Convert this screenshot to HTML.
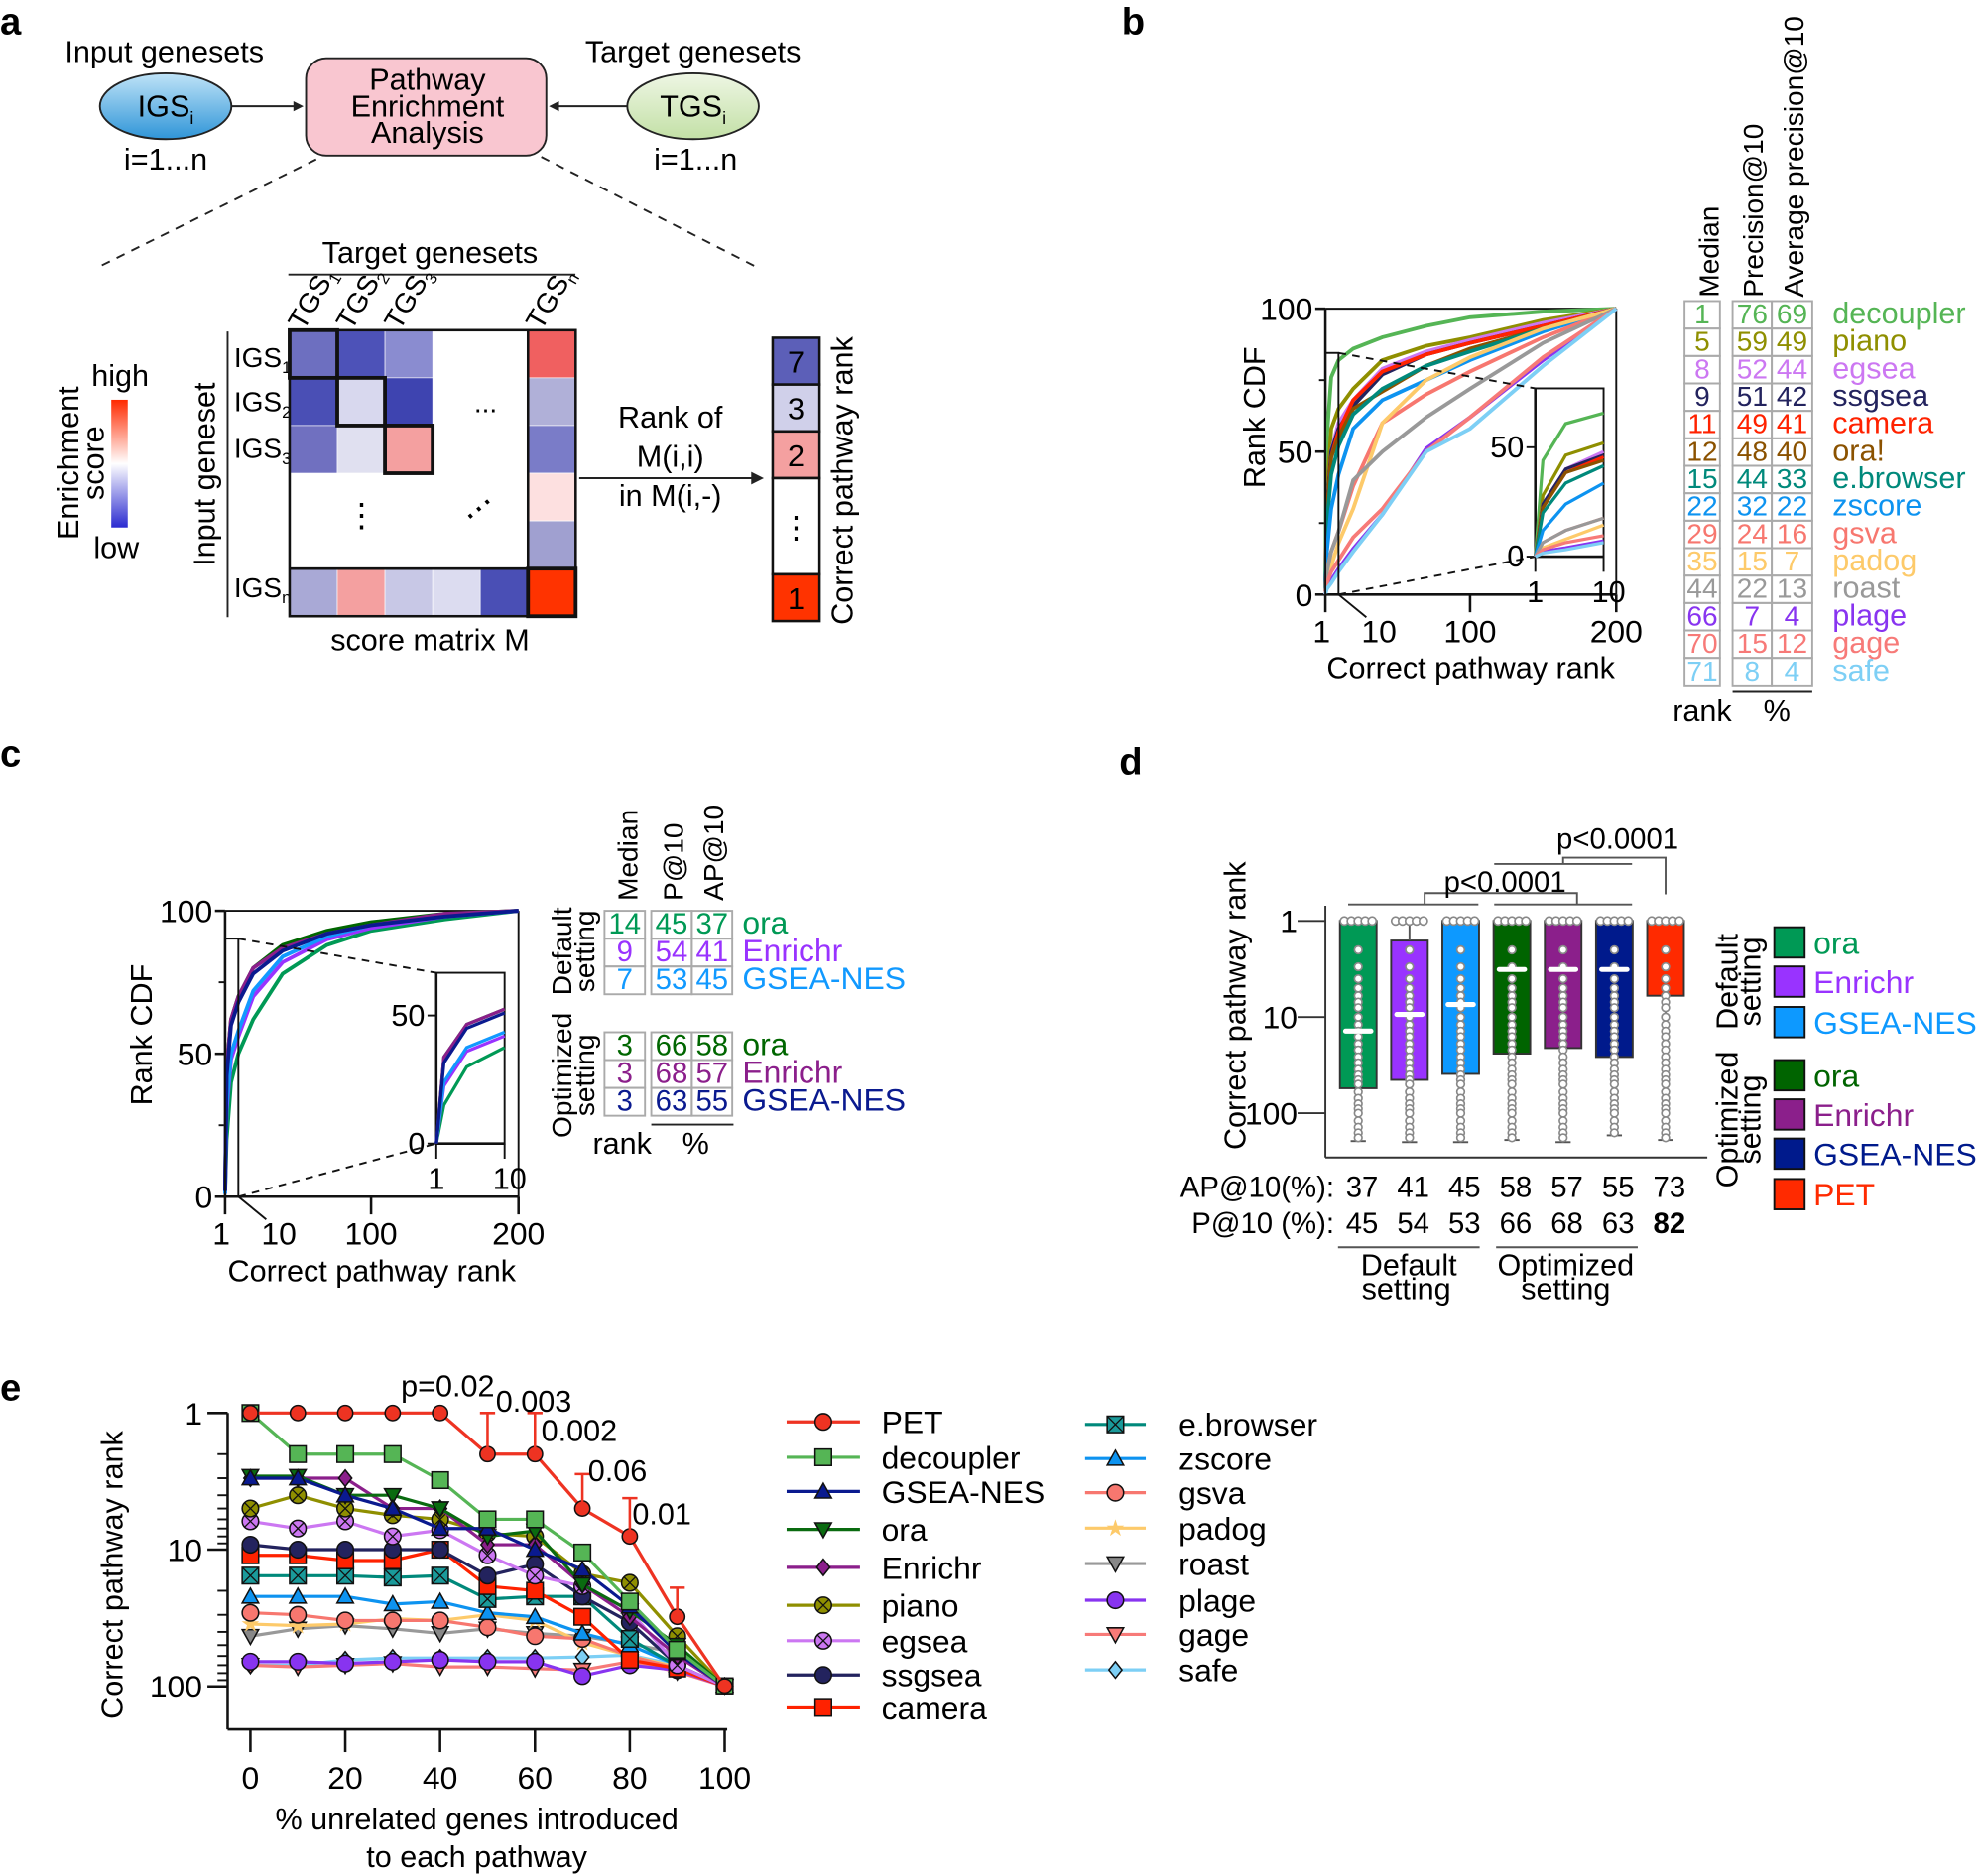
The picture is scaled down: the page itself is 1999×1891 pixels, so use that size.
<!DOCTYPE html>
<html><head><meta charset="utf-8">
<style>
html,body{margin:0;padding:0;background:#fff;}
svg{display:block;}
text{font-family:"Liberation Sans Narrow","Liberation Sans",sans-serif;}
</style></head>
<body>
<svg id="fig" width="1999" height="1891" viewBox="0 0 1568 1483" preserveAspectRatio="none" xmlns="http://www.w3.org/2000/svg">
<defs>
<linearGradient id="gIGS" x1="0" y1="0" x2="0" y2="1"><stop offset="0" stop-color="#bfe3f7"/><stop offset="1" stop-color="#2f95d8"/></linearGradient>
<linearGradient id="gTGS" x1="0" y1="0" x2="0" y2="1"><stop offset="0" stop-color="#eef6e4"/><stop offset="1" stop-color="#c3e0a6"/></linearGradient>
<linearGradient id="gBar" x1="0" y1="0" x2="0" y2="1"><stop offset="0" stop-color="#ff2a00"/><stop offset="0.5" stop-color="#ffffff"/><stop offset="1" stop-color="#2a2ad0"/></linearGradient>
</defs>

<!-- ============ PANEL A ============ -->
<g font-size="24">
<text x="0" y="27" font-size="30" font-weight="bold" font-family="Liberation Sans">a</text>
<text x="130" y="49" text-anchor="middle">Input genesets</text>
<text x="548" y="49" text-anchor="middle">Target genesets</text>
<ellipse cx="131" cy="84" rx="52" ry="26" fill="url(#gIGS)" stroke="#222" stroke-width="1.5"/>
<text x="131" y="92" text-anchor="middle">IGS<tspan font-size="14" dy="6">i</tspan></text>
<ellipse cx="548" cy="84" rx="52" ry="26" fill="url(#gTGS)" stroke="#222" stroke-width="1.5"/>
<text x="548" y="92" text-anchor="middle">TGS<tspan font-size="14" dy="6">i</tspan></text>
<text x="131" y="134" text-anchor="middle">i=1...n</text>
<text x="550" y="134" text-anchor="middle">i=1...n</text>
<rect x="242" y="46" width="190" height="77" rx="16" fill="#f9c6d0" stroke="#222" stroke-width="1.5"/>
<text x="338" y="71" text-anchor="middle">Pathway</text>
<text x="338" y="92" text-anchor="middle">Enrichment</text>
<text x="338" y="113" text-anchor="middle">Analysis</text>
<line x1="183" y1="84" x2="236" y2="84" stroke="#222" stroke-width="1.5"/><path d="M240 84 l-8 -4 v8z" fill="#222"/>
<line x1="496" y1="84" x2="440" y2="84" stroke="#222" stroke-width="1.5"/><path d="M434 84 l8 -4 v8z" fill="#222"/>
<line x1="250" y1="126" x2="80" y2="210" stroke="#222" stroke-width="1.5" stroke-dasharray="7,6"/>
<line x1="428" y1="124" x2="600" y2="212" stroke="#222" stroke-width="1.5" stroke-dasharray="7,6"/>
<text x="340" y="208" text-anchor="middle">Target genesets</text>
<line x1="228" y1="217" x2="455" y2="217" stroke="#222" stroke-width="1.5"/>
<g font-size="22">
<text transform="translate(240,262) rotate(-60)">TGS<tspan font-size="13" dy="5">1</tspan></text>
<text transform="translate(278,262) rotate(-60)">TGS<tspan font-size="13" dy="5">2</tspan></text>
<text transform="translate(316,262) rotate(-60)">TGS<tspan font-size="13" dy="5">3</tspan></text>
<text transform="translate(428,262) rotate(-60)">TGS<tspan font-size="13" dy="5">n</tspan></text>
<text x="185" y="290">IGS<tspan font-size="13" dy="5">1</tspan></text>
<text x="185" y="325">IGS<tspan font-size="13" dy="5">2</tspan></text>
<text x="185" y="362">IGS<tspan font-size="13" dy="5">3</tspan></text>
<text x="185" y="472">IGS<tspan font-size="13" dy="5">n</tspan></text>
</g>
<line x1="180" y1="262" x2="180" y2="488" stroke="#222" stroke-width="1.5"/>
<text transform="translate(170,375) rotate(-90)" text-anchor="middle">Input geneset</text>
<g id="matrix"></g>
<text x="384" y="326" text-anchor="middle" font-size="22">...</text>
<text x="286" y="416" text-anchor="middle" font-size="26">⋮</text>
<text x="380" y="410" text-anchor="middle" font-size="26" transform="rotate(-40,380,404)">⋯</text>
<text x="340" y="514" text-anchor="middle">score matrix M</text>
<rect x="88" y="316" width="13" height="101" fill="url(#gBar)"/>
<text x="95" y="305" text-anchor="middle">high</text>
<text x="92" y="441" text-anchor="middle">low</text>
<text transform="translate(62,366) rotate(-90)" text-anchor="middle">Enrichment</text>
<text transform="translate(82,366) rotate(-90)" text-anchor="middle">score</text>
<text x="530" y="338" text-anchor="middle">Rank of</text>
<text x="530" y="369" text-anchor="middle">M(i,i)</text>
<text x="530" y="400" text-anchor="middle">in M(i,-)</text>
<line x1="458" y1="378" x2="596" y2="378" stroke="#222" stroke-width="1.5"/><path d="M604 378 l-10 -5 v10z" fill="#222"/>
<g id="rankcol"></g>
<text transform="translate(674,380) rotate(-90)" text-anchor="middle">Correct pathway rank</text>
</g>

<!-- ============ PANEL B ============ -->
<g font-size="24">
<text x="887" y="27" font-size="30" font-weight="bold" font-family="Liberation Sans">b</text>
<g id="chartB"></g>
<text transform="translate(1000,330) rotate(-90)" text-anchor="middle">Rank CDF</text>
<text x="1163" y="536" text-anchor="middle">Correct pathway rank</text>
<g font-size="22">
<text transform="translate(1359,235) rotate(-90)">Median</text>
<text transform="translate(1394,235) rotate(-90)">Precision@10</text>
<text transform="translate(1426,235) rotate(-90)">Average precision@10</text>
</g>
<g id="tableB"></g>
<text x="1346" y="570" text-anchor="middle">rank</text>
<text x="1405" y="570" text-anchor="middle">%</text>
<line x1="1370" y1="547" x2="1433" y2="547" stroke="#222" stroke-width="1.5"/>
</g>

<!-- ============ PANEL C ============ -->
<g font-size="24">
<text x="0" y="606" font-size="30" font-weight="bold" font-family="Liberation Sans">c</text>
<g id="chartC"></g>
<text transform="translate(120,818) rotate(-90)" text-anchor="middle">Rank CDF</text>
<text x="294" y="1013" text-anchor="middle">Correct pathway rank</text>
<g font-size="22">
<text transform="translate(504,712) rotate(-90)">Median</text>
<text transform="translate(540,712) rotate(-90)">P@10</text>
<text transform="translate(572,712) rotate(-90)">AP@10</text>
<text transform="translate(452,752) rotate(-90)" text-anchor="middle">Default</text>
<text transform="translate(470,752) rotate(-90)" text-anchor="middle">setting</text>
<text transform="translate(452,850) rotate(-90)" text-anchor="middle">Optimized</text>
<text transform="translate(470,850) rotate(-90)" text-anchor="middle">setting</text>
</g>
<g id="tableC"></g>
<text x="492" y="912" text-anchor="middle">rank</text>
<text x="550" y="912" text-anchor="middle">%</text>
<line x1="515" y1="889" x2="580" y2="889" stroke="#222" stroke-width="1.5"/>
</g>

<!-- ============ PANEL D ============ -->
<g font-size="24">
<text x="885" y="612" font-size="30" font-weight="bold" font-family="Liberation Sans">d</text>
<g id="chartD"></g>
<text transform="translate(985,795) rotate(-90)" text-anchor="middle">Correct pathway rank</text>
<text x="1055" y="946" text-anchor="end" font-size="23">AP@10(%):</text>
<text x="1055" y="975" text-anchor="end" font-size="23">P@10 (%):</text>
<line x1="1058" y1="986" x2="1170" y2="986" stroke="#555" stroke-width="1.5"/>
<line x1="1183" y1="986" x2="1295" y2="986" stroke="#555" stroke-width="1.5"/>
<text x="1114" y="1008" text-anchor="middle">Default</text><text x="1112" y="1027" text-anchor="middle">setting</text>
<text x="1238" y="1008" text-anchor="middle">Optimized</text><text x="1238" y="1027" text-anchor="middle">setting</text>
<text transform="translate(1374,776) rotate(-90)" text-anchor="middle">Default</text>
<text transform="translate(1392,776) rotate(-90)" text-anchor="middle">setting</text>
<text transform="translate(1374,885) rotate(-90)" text-anchor="middle">Optimized</text>
<text transform="translate(1392,885) rotate(-90)" text-anchor="middle">setting</text>
<g id="legendD"></g>
</g>

<!-- ============ PANEL E ============ -->
<g font-size="24">
<text x="0" y="1107" font-size="30" font-weight="bold" font-family="Liberation Sans">e</text>
<g id="chartE"></g>
<text transform="translate(97,1245) rotate(-90)" text-anchor="middle">Correct pathway rank</text>
<text x="377" y="1446" text-anchor="middle">% unrelated genes introduced</text>
<text x="377" y="1476" text-anchor="middle">to each pathway</text>
<g id="legendE"></g>
</g>
</svg>

<script>
// ---------- Panel b data ----------
const cdfRanks = [1,2,5,10,20,40,70,100,150,200];
const bNames = ["decoupler","piano","egsea","ssgsea","camera","ora!","e.browser","zscore","gsva","padog","roast","plage","gage","safe"];
const bColors = ["#55b555","#8f8f00","#cc77f2","#23235e","#ff2200","#8b5200","#00897b","#0d93f0","#f7776f","#fdca6a","#999999","#8834f0","#f77a78","#7dcff5"];
const bMedian = [1,5,8,9,11,12,15,22,29,35,44,66,70,71];
const bP10 = [76,59,52,51,49,48,44,32,24,15,22,7,15,8];
const bAP10 = [69,49,44,42,41,40,33,22,16,7,13,4,12,4];
const bCdf0 = [5,55,76,82,86,90,94,97,99,100];
const bCdf1 = [2,35,58,65,72,82,87,90,96,100];
const bCdf2 = [2,30,50,60,68,79,85,89,95,100];
const bCdf3 = [2,30,50,58,66,77,84,88,94,100];
const bCdf4 = [2,28,48,57,68,78,84,88,94,100];
const bCdf5 = [2,28,48,55,65,71,80,86,93,100];
const bCdf6 = [2,25,42,52,63,72,80,85,93,100];
const bCdf7 = [1,15,30,42,58,68,75,82,92,100];
const bCdf8 = [1,8,15,22,38,60,70,78,90,100];
const bCdf9 = [1,5,10,18,30,60,75,83,93,100];
const bCdf10 = [1,8,15,22,40,50,62,72,88,100];
const bCdf11 = [0,3,5,9,16,28,51,62,82,100];
const bCdf12 = [0,4,8,12,20,30,50,62,83,100];
const bCdf13 = [0,2,4,8,15,28,50,58,80,100];
const bCdfs = [bCdf0,bCdf1,bCdf2,bCdf3,bCdf4,bCdf5,bCdf6,bCdf7,bCdf8,bCdf9,bCdf10,bCdf11,bCdf12,bCdf13];
const cdfTicksX = [1,100,200];
const cdfTicksY = [0,50,100];

// ---------- Panel c data ----------
const cNames = ["ora","Enrichr","GSEA-NES","ora","Enrichr","GSEA-NES"];
const cColors = ["#009955","#9933ff","#1199ff","#006600","#8b1f8b","#0a1a8f"];
const cMedian = [14,9,7,3,3,3];
const cP10 = [45,54,53,66,68,63];
const cAP10 = [37,41,45,58,57,55];
const cCdf0 = [1,20,40,50,62,78,88,93,97,100];
const cCdf1 = [1,30,48,56,70,82,90,94,98,100];
const cCdf2 = [1,32,50,58,72,84,91,95,98,100];
const cCdf3 = [2,45,62,70,80,88,93,96,99,100];
const cCdf4 = [2,45,62,70,80,87,92,95,99,100];
const cCdf5 = [2,42,60,68,78,86,92,95,98,100];
const cCdfs = [cCdf0,cCdf1,cCdf2,cCdf3,cCdf4,cCdf5];

// ---------- Panel d data ----------
const dNames = ["ora","Enrichr","GSEA-NES","ora","Enrichr","GSEA-NES","PET"];
const dColors = ["#009955","#9933ff","#0d99ff","#006400","#8b1f8b","#001a8c","#ff2a00"];
const dQ1 = [1,1.6,1,1,1,1,1];
const dQ3 = [55,45,39,24,21,26,6];
const dMed = [14,9.4,7.4,3.2,3.2,3.2,1];
const dMax = [195,200,200,190,200,170,190];
const dAP = [37,41,45,58,57,55,73];
const dP = [45,54,53,66,68,63,82];
const dDotRanks = [1,2,3,4,5,6,7,8,10,12,14,16,19,22,26,30,35,40,45,50,60,70,80,90,100,120,140,160,180];
const dTicks = [1,10,100];

// ---------- Panel e data ----------
const ePct = [0,10,20,30,40,50,60,70,80,90,100];
const eNames = ["PET","decoupler","GSEA-NES","ora","Enrichr","piano","egsea","ssgsea","camera","e.browser","zscore","gsva","padog","roast","plage","gage","safe"];
const eColors = ["#ee3322","#55b555","#0a1a8f","#0a6b10","#8b1f8b","#8f8f00","#cc77f2","#23235e","#ff2200","#00897b","#0d93f0","#f7776f","#fdca6a","#999999","#8834f0","#f77a78","#7dcff5"];
const eShapes = ["circle","square","tri","tridown","diamond","xcircle","xcircle","circle","square","xsquare","tri","circle","star","tridown","circle","tridown","diamond"];
const eFills = ["#ee3322","#55b555","#0a1a8f","#0a6b10","#8b1f8b","#8f8f00","#cc77f2","#23235e","#ff2200","#1a9a9a","#0d93f0","#f7776f","#fdca6a","#888888","#8834f0","#f77a78","#7dcff5"];
const eS0 = [1,1,1,1,1,2,2,5,8,31,100];
const eS1 = [1,2,2,2,3.1,6,6,10.5,24,54,100];
const eS2 = [3,3,4,5,7,7,10,14,26,57,100];
const eS3 = [2.9,2.9,4,4,5,8,7.3,18,28,50,100];
const eS4 = [3,3,3,5,5,9.2,9.2,18,31,60,100];
const eS5 = [5,4,5,5.6,6,7.6,8,15,17.5,43,100];
const eS6 = [6.2,7,6.2,8,7.2,11,15.5,18.5,28,70,100];
const eS7 = [9.2,10,10,10,10,15.5,12.8,22,34,70,100];
const eS8 = [11,11,12,12,10,18.5,20,31,64,74,100];
const eS9 = [15.5,15.5,15.5,16,15.5,23,22,22,45,71,100];
const eS10 = [22,22,22,25,24,29,31,41,50,70,100];
const eS11 = [29,30,33,33,33,37,43,45,60,74,100];
const eS12 = [35,36,35,32,33,30,33,48,60,72,100];
const eS13 = [43,38,36,38,41,38,41,43,49,57,100];
const eS14 = [66,66,68,66,64,66,66,84,70,76,100];
const eS15 = [70,72,70,68,72,72,74,76,66,78,100];
const eS16 = [70,70,64,62,62,62,62,61,59,70,100];
const eSeries = [eS0,eS1,eS2,eS3,eS4,eS5,eS6,eS7,eS8,eS9,eS10,eS11,eS12,eS13,eS14,eS15,eS16];
const ePetErr = [1,1,1,1,1,1,1,2.8,4.2,19,100];
const ePLabels = ["p=0.02","0.003","0.002","0.06","0.01"];
const eXTicks = [0,20,40,60,80,100];
const eYTicks = [1,10,100];

const NS = "http://www.w3.org/2000/svg";
function mk(tag, attrs, parent, txt){
  const e = document.createElementNS(NS, tag);
  for (const k in attrs) e.setAttribute(k, attrs[k]);
  if (txt !== undefined) e.textContent = txt;
  parent.appendChild(e);
  return e;
}

// ---------- Panel a: matrix ----------
(function(){
  const g = document.getElementById('matrix');
  const cells = [
    [0,0,"#6d6fc0"],[0,1,"#4d52b8"],[0,2,"#8a8cd0"],[0,5,"#f06060"],
    [1,0,"#4a4fb5"],[1,1,"#d8d8ee"],[1,2,"#3e44b0"],[1,5,"#b0b0d8"],
    [2,0,"#7070c0"],[2,1,"#e0e0f0"],[2,2,"#f4a0a0"],[2,5,"#7a7cc8"],
    [3,5,"#fde0e0"],[4,5,"#a0a0d0"],
    [5,0,"#a9a9d6"],[5,1,"#f4a0a0"],[5,2,"#c8c8e6"],[5,3,"#dcdcf0"],[5,4,"#4a4fb5"],[5,5,"#ff3300"]];
  const cw=37.7, x0=229, y0=261;
  cells.forEach(c=>{
    const r = mk('rect',{x:x0+c[1]*cw,y:y0+c[0]*cw,width:cw,height:cw,fill:c[2],stroke:"#fff","stroke-width":0.5},g);
    
    
  });
  mk('rect',{x:x0,y:y0,width:6*cw,height:6*cw,fill:"none",stroke:"#111","stroke-width":2},g);
  [[0,0],[1,1],[2,2],[5,5]].forEach(d=>{
    mk('rect',{x:x0+d[1]*cw,y:y0+d[0]*cw,width:cw,height:cw,fill:"none",stroke:"#111","stroke-width":3},g);
  });
  mk('line',{x1:x0+5*cw,y1:y0,x2:x0+5*cw,y2:y0+6*cw,stroke:"#111","stroke-width":2},g);
  mk('line',{x1:x0,y1:y0+5*cw,x2:x0+6*cw,y2:y0+5*cw,stroke:"#111","stroke-width":2},g);
  const rc = document.getElementById('rankcol');
  const rows = [[267,37,"#5c5fb8","7"],[304,37,"#d0d0ea","3"],[341,37,"#f4a0a0","2"],[378,76,"#ffffff","⋮"],[454,37,"#ff3300","1"]];
  rows.forEach(r=>{
    const rr = mk('rect',{x:611,y:r[0],width:37,height:r[1],fill:r[2],stroke:"#111","stroke-width":2},rc);
    
    
    mk('text',{x:629.5,y:r[0]+r[1]/2+9,"text-anchor":"middle","font-size":24},rc,r[3]);
  });
})();

// ---------- CDF chart helper ----------
function cdfChart(gid, X0, X1, Y0, Y1, cdfs, colors, inset, labelPrefix){
  const g = document.getElementById(gid);
  const sx = r => X0 + (r-1)/199*(X1-X0);
  const sy = v => Y0 - v/100*(Y0-Y1);
  mk('line',{x1:X0,y1:Y1,x2:X0,y2:Y0,stroke:"#111","stroke-width":2},g);
  mk('line',{x1:X0,y1:Y0,x2:X1,y2:Y0,stroke:"#111","stroke-width":2},g);
  mk('line',{x1:X0,y1:Y1,x2:X1,y2:Y1,stroke:"#111","stroke-width":1.5},g);
  mk('line',{x1:X1,y1:Y1,x2:X1,y2:Y0,stroke:"#111","stroke-width":1.5},g);
  cdfTicksY.forEach(v=>{
    mk('line',{x1:X0-8,y1:sy(v),x2:X0,y2:sy(v),stroke:"#111","stroke-width":2},g);
    const t = mk('text',{x:X0-10,y:sy(v)+9,"text-anchor":"end","font-size":25},g,String(v));
    
    
  });
  [25,75].forEach(v=>mk('line',{x1:X0-5,y1:sy(v),x2:X0,y2:sy(v),stroke:"#111","stroke-width":1.5},g));
  cdfTicksX.forEach(r=>{
    mk('line',{x1:sx(r),y1:Y0,x2:sx(r),y2:Y0+14,stroke:"#111","stroke-width":2},g);
    const t = mk('text',{x:sx(r)-(r===1?3:0),y:Y0+38,"text-anchor":"middle","font-size":25},g,String(r));
    
    
  });
  // "10" label with pointer
  mk('line',{x1:sx(10),y1:Y0,x2:sx(10)+22,y2:Y0+18,stroke:"#111","stroke-width":1.5},g);
  const t10 = mk('text',{x:sx(10)+32,y:Y0+38,"text-anchor":"middle","font-size":25},g,"10");
  
  
  cdfs.forEach((arr,i)=>{
    let d = "";
    arr.forEach((v,j)=>{ d += (j?"L":"M") + sx(cdfRanks[j]).toFixed(1) + " " + sy(v).toFixed(1); });
    const p = mk('path',{d:d,fill:"none",stroke:colors[i],"stroke-width":3},g);
    
    
  });
  const bx1 = sx(10);
  mk('rect',{x:X0,y:inset.boxTop,width:bx1-X0,height:Y0-inset.boxTop,fill:"none",stroke:"#111","stroke-width":1.5},g);
  const ix0=inset.x0, ix1=inset.x1, iy0=inset.y0, iy1=inset.y1;
  mk('line',{x1:bx1,y1:inset.boxTop,x2:ix0,y2:iy1,stroke:"#111","stroke-width":1.5,"stroke-dasharray":"6,5"},g);
  mk('line',{x1:bx1,y1:Y0,x2:ix0,y2:iy0,stroke:"#111","stroke-width":1.5,"stroke-dasharray":"6,5"},g);
  mk('rect',{x:ix0,y:iy1,width:ix1-ix0,height:iy0-iy1,fill:"#fff",stroke:"#111","stroke-width":1.5},g);
  mk('line',{x1:ix0,y1:iy1,x2:ix0,y2:iy0,stroke:"#111","stroke-width":2},g);
  mk('line',{x1:ix0,y1:iy0,x2:ix1,y2:iy0,stroke:"#111","stroke-width":2},g);
  const isx = r => ix0 + (r-1)/9*(ix1-ix0);
  const isy = v => iy0 - v/100*(iy0-iy1)*inset.yScale;
  [0,50].forEach(v=>{
    mk('line',{x1:ix0-7,y1:isy(v),x2:ix0,y2:isy(v),stroke:"#111","stroke-width":1.5},g);
    mk('text',{x:ix0-9,y:isy(v)+8,"text-anchor":"end","font-size":24},g,String(v));
  });
  [1,10].forEach(r=>{
    mk('line',{x1:isx(r),y1:iy0,x2:isx(r),y2:iy0+12,stroke:"#111","stroke-width":1.5},g);
    mk('text',{x:isx(r)+(r===10?4:0),y:iy0+36,"text-anchor":"middle","font-size":24},g,String(r));
  });
  cdfs.forEach((arr,i)=>{
    let d="";
    const pts=[[1,0]];
    for (let j=1;j<arr.length && cdfRanks[j]<=10;j++) pts.push([cdfRanks[j], arr[j]*inset.frac]);
    pts.forEach((p,j)=>{ d += (j?"L":"M")+isx(p[0]).toFixed(1)+" "+isy(p[1]).toFixed(1); });
    const p = mk('path',{d:d,fill:"none",stroke:colors[i],"stroke-width":2.5},g);
    
    
  });
}
cdfChart('chartB',1048,1278,470,244,bCdfs,bColors,{boxTop:279,x0:1214,x1:1268,y0:440,y1:307,yScale:1.3,frac:0.8},'b');
cdfChart('chartC',178,410,946,720,cCdfs,cColors,{boxTop:742,x0:345,x1:399,y0:904,y1:769,yScale:1.5,frac:0.75},'c');

// ---------- tables ----------
function table(gid, x, y0, rowH, rows, names, colors, med, p, ap, extraGap){
  const g = document.getElementById(gid);
  for (let i=0;i<rows;i++){
    const y = y0 + i*rowH + (extraGap && i>=3 ? extraGap : 0);
    const c = colors[i];
    [[x.r0,x.r1],[x.p0,x.p1],[x.a0,x.a1]].forEach(b=>mk('rect',{x:b[0],y:y,width:b[1]-b[0],height:rowH,fill:"none",stroke:"#aaa","stroke-width":1.5},g));
    const fs = x.fs;
    mk('text',{x:(x.r0+x.r1)/2,y:y+rowH-4,"text-anchor":"middle","font-size":fs,fill:c},g,String(med[i]));
    mk('text',{x:(x.p0+x.p1)/2,y:y+rowH-4,"text-anchor":"middle","font-size":fs,fill:c},g,String(p[i]));
    mk('text',{x:(x.a0+x.a1)/2,y:y+rowH-4,"text-anchor":"middle","font-size":fs,fill:c},g,String(ap[i]));
    const t = mk('text',{x:x.n,y:y+rowH-4,"font-size":fs+2,fill:c},g,names[i]);
    
    
  }
}
table('tableB',{r0:1332,r1:1360,p0:1370,p1:1401,a0:1401,a1:1433,n:1449,fs:22},238,21.7,14,bNames,bColors,bMedian,bP10,bAP10,0);
table('tableC',{r0:478,r1:510,p0:515,p1:547,a0:547,a1:579,n:587,fs:23},720,22,6,cNames,cColors,cMedian,cP10,cAP10,30);

// ---------- Panel d ----------
(function(){
  const g = document.getElementById('chartD');
  const sy = r => 728 + Math.log10(r)*76;
  const cx = i => 1074 + i*40.5;
  const X0=1048, Y0=915;
  mk('line',{x1:X0,y1:716,x2:X0,y2:Y0,stroke:"#333","stroke-width":1.5},g);
  mk('line',{x1:X0,y1:Y0,x2:1350,y2:Y0,stroke:"#333","stroke-width":1.5},g);
  dTicks.forEach(v=>{
    mk('line',{x1:X0-22,y1:sy(v),x2:X0,y2:sy(v),stroke:"#333","stroke-width":1.5},g);
    const t = mk('text',{x:X0-22,y:sy(v)+9,"text-anchor":"end","font-size":25},g,String(v));
    
    
  });
  dNames.forEach((n,i)=>{
    const x = cx(i), w=29;
    mk('line',{x1:x,y1:sy(dQ3[i]),x2:x,y2:sy(dMax[i]),stroke:"#555","stroke-width":1.5},g);
    mk('line',{x1:x-6,y1:sy(dMax[i]),x2:x+6,y2:sy(dMax[i]),stroke:"#555","stroke-width":1.5},g);
    const b = mk('rect',{x:x-w/2,y:sy(dQ1[i]),width:w,height:sy(dQ3[i])-sy(dQ1[i]),fill:dColors[i],stroke:"#333","stroke-width":1.5},g);
    
    
    if (dQ1[i]>1) mk('line',{x1:x,y1:sy(1),x2:x,y2:sy(dQ1[i]),stroke:"#555","stroke-width":1.5},g);
    for (let k=-2;k<=2;k++) mk('circle',{cx:x+k*5.5,cy:sy(1),r:3.2,fill:"#fff",stroke:"#888","stroke-width":1.3},g);
    dDotRanks.forEach(r=>{
      if (r<=1 || r>dMax[i]) return;
      mk('circle',{cx:x,cy:sy(r),r:3,fill:"#fff",stroke:"#888","stroke-width":1.3},g);
    });
    if (i<6){
      const m = mk('rect',{x:x-12,y:sy(dMed[i])-2,width:24,height:4,fill:"#fff",rx:2},g);
      
      
    }
    mk('text',{x:x+3,y:946,"text-anchor":"middle","font-size":23},g,String(dAP[i]));
    const pt = mk('text',{x:x+3,y:975,"text-anchor":"middle","font-size":23,"font-weight":(i===6?"bold":"normal")},g,String(dP[i]));
    
    
  });
  const br = "#555";
  mk('path',{d:`M${cx(0)-8} 715 H${cx(2)+14} M${cx(3)-14} 715 H${cx(5)+14} M${(cx(0)+cx(2))/2+12} 715 V706 H${(cx(3)+cx(5))/2+11} V715`,fill:"none",stroke:br,"stroke-width":1.5},g);
  mk('text',{x:1190,y:705,"text-anchor":"middle","font-size":23},g,"p<0.0001");
  mk('path',{d:`M${cx(3)-14} 683 H${cx(5)+14} M${cx(4)} 683 V678 H${cx(6)} V707`,fill:"none",stroke:br,"stroke-width":1.5},g);
  mk('text',{x:1279,y:671,"text-anchor":"middle","font-size":23},g,"p<0.0001");
  const lg = document.getElementById('legendD');
  const ly = [733,764,796,838,869,900,932];
  dNames.forEach((n,i)=>{
    const r = mk('rect',{x:1403,y:ly[i],width:24,height:24,fill:dColors[i],stroke:"#111","stroke-width":1.5},lg);
    
    
    const t = mk('text',{x:1434,y:ly[i]+21,"font-size":25,fill:dColors[i]},lg,n);
    
    
  });
})();

// ---------- Panel e ----------
function marker(g, shape, x, y, fill, s){
  const st = {stroke:"#111","stroke-width":1.2};
  let el;
  if (shape==="circle") el = mk('circle',Object.assign({cx:x,cy:y,r:s,fill:fill},st),g);
  else if (shape==="square") el = mk('rect',Object.assign({x:x-s,y:y-s,width:2*s,height:2*s,fill:fill},st),g);
  else if (shape==="tri") el = mk('path',Object.assign({d:`M${x} ${y-s} L${x+s} ${y+s*0.8} L${x-s} ${y+s*0.8}Z`,fill:fill},st),g);
  else if (shape==="tridown") el = mk('path',Object.assign({d:`M${x} ${y+s} L${x+s} ${y-s*0.8} L${x-s} ${y-s*0.8}Z`,fill:fill},st),g);
  else if (shape==="diamond") el = mk('path',Object.assign({d:`M${x} ${y-s} L${x+s*0.8} ${y} L${x} ${y+s} L${x-s*0.8} ${y}Z`,fill:fill},st),g);
  else if (shape==="star") el = mk('text',{x:x,y:y+6,"text-anchor":"middle","font-size":18,fill:fill},g,"★");
  else if (shape==="xcircle"){ el = mk('circle',Object.assign({cx:x,cy:y,r:s,fill:fill},st),g);
    mk('path',{d:`M${x-s*0.7} ${y-s*0.7}L${x+s*0.7} ${y+s*0.7}M${x+s*0.7} ${y-s*0.7}L${x-s*0.7} ${y+s*0.7}`,stroke:"#111","stroke-width":1},g); }
  else if (shape==="xsquare"){ el = mk('rect',Object.assign({x:x-s,y:y-s,width:2*s,height:2*s,fill:fill},st),g);
    mk('path',{d:`M${x-s} ${y-s}L${x+s} ${y+s}M${x+s} ${y-s}L${x-s} ${y+s}`,stroke:"#111","stroke-width":1},g); }
  return el;
}
(function(){
  const g = document.getElementById('chartE');
  const sx = p => 198 + p/100*375;
  const sy = r => 1117 + Math.log10(r)*108;
  mk('line',{x1:180,y1:1117,x2:180,y2:1367,stroke:"#111","stroke-width":2},g);
  mk('line',{x1:180,y1:1367,x2:575,y2:1367,stroke:"#111","stroke-width":2},g);
  eYTicks.forEach(v=>{
    mk('line',{x1:164,y1:sy(v),x2:180,y2:sy(v),stroke:"#111","stroke-width":2},g);
    const t = mk('text',{x:160,y:sy(v)+9,"text-anchor":"end","font-size":25},g,String(v));
    
    
  });
  [2,3,4,5,6,7,8,9,20,30,40,50,60,70,80,90].forEach(v=>mk('line',{x1:172,y1:sy(v),x2:180,y2:sy(v),stroke:"#111","stroke-width":1.5},g));
  eXTicks.forEach(p=>{
    mk('line',{x1:sx(p),y1:1367,x2:sx(p),y2:1385,stroke:"#111","stroke-width":2},g);
    const t = mk('text',{x:sx(p),y:1414,"text-anchor":"middle","font-size":25},g,String(p));
    
    
  });
  for (let i=eSeries.length-1;i>=0;i--){
    const s = eSeries[i];
    let d="";
    s.forEach((v,j)=>{ d += (j?"L":"M")+sx(ePct[j]).toFixed(1)+" "+sy(v).toFixed(1); });
    const p = mk('path',{d:d,fill:"none",stroke:eColors[i],"stroke-width":2.5},g);
    
    
    s.forEach((v,j)=>{
      const m = marker(g, eShapes[i], sx(ePct[j]), sy(v), eFills[i], i===0?6:6.5);
      
      
    });
  }
  ePct.forEach((p,j)=>{
    if (ePetErr[j] >= eS0[j]) return;
    const x = sx(p);
    mk('path',{d:`M${x} ${sy(eS0[j])} V${sy(ePetErr[j])} M${x-6} ${sy(ePetErr[j])} H${x+6}`,stroke:"#ee3322","stroke-width":2,fill:"none"},g);
  });
  const pl = [[317,1104],[392,1116],[428,1139],[465,1171],[500,1205]];
  ePLabels.forEach((t,i)=>{
    const tt = mk('text',{x:pl[i][0],y:pl[i][1],"font-size":24},g,t);
    
    
  });
  const lg = document.getElementById('legendE');
  const col1y = [1124,1152,1179,1209,1239,1269,1297,1324,1350];
  const col2y = [1126,1153,1180,1208,1236,1265,1292,1320];
  eNames.forEach((n,i)=>{
    let x0, x1, tx, y;
    const idx = i<=8 ? i : i-9;
    if (i<=8){ x0=622; x1=680; tx=697; y=col1y[idx]; }
    else { x0=858; x1=906; tx=932; y=col2y[idx]; }
    mk('line',{x1:x0,y1:y,x2:x1,y2:y,stroke:eColors[i],"stroke-width":2.5},lg);
    marker(lg, eShapes[i], (x0+x1)/2, y, eFills[i], 6.5);
    const t = mk('text',{x:tx,y:y+9,"font-size":25},lg,n);
    
    
  });
})();
</script>
</body></html>
